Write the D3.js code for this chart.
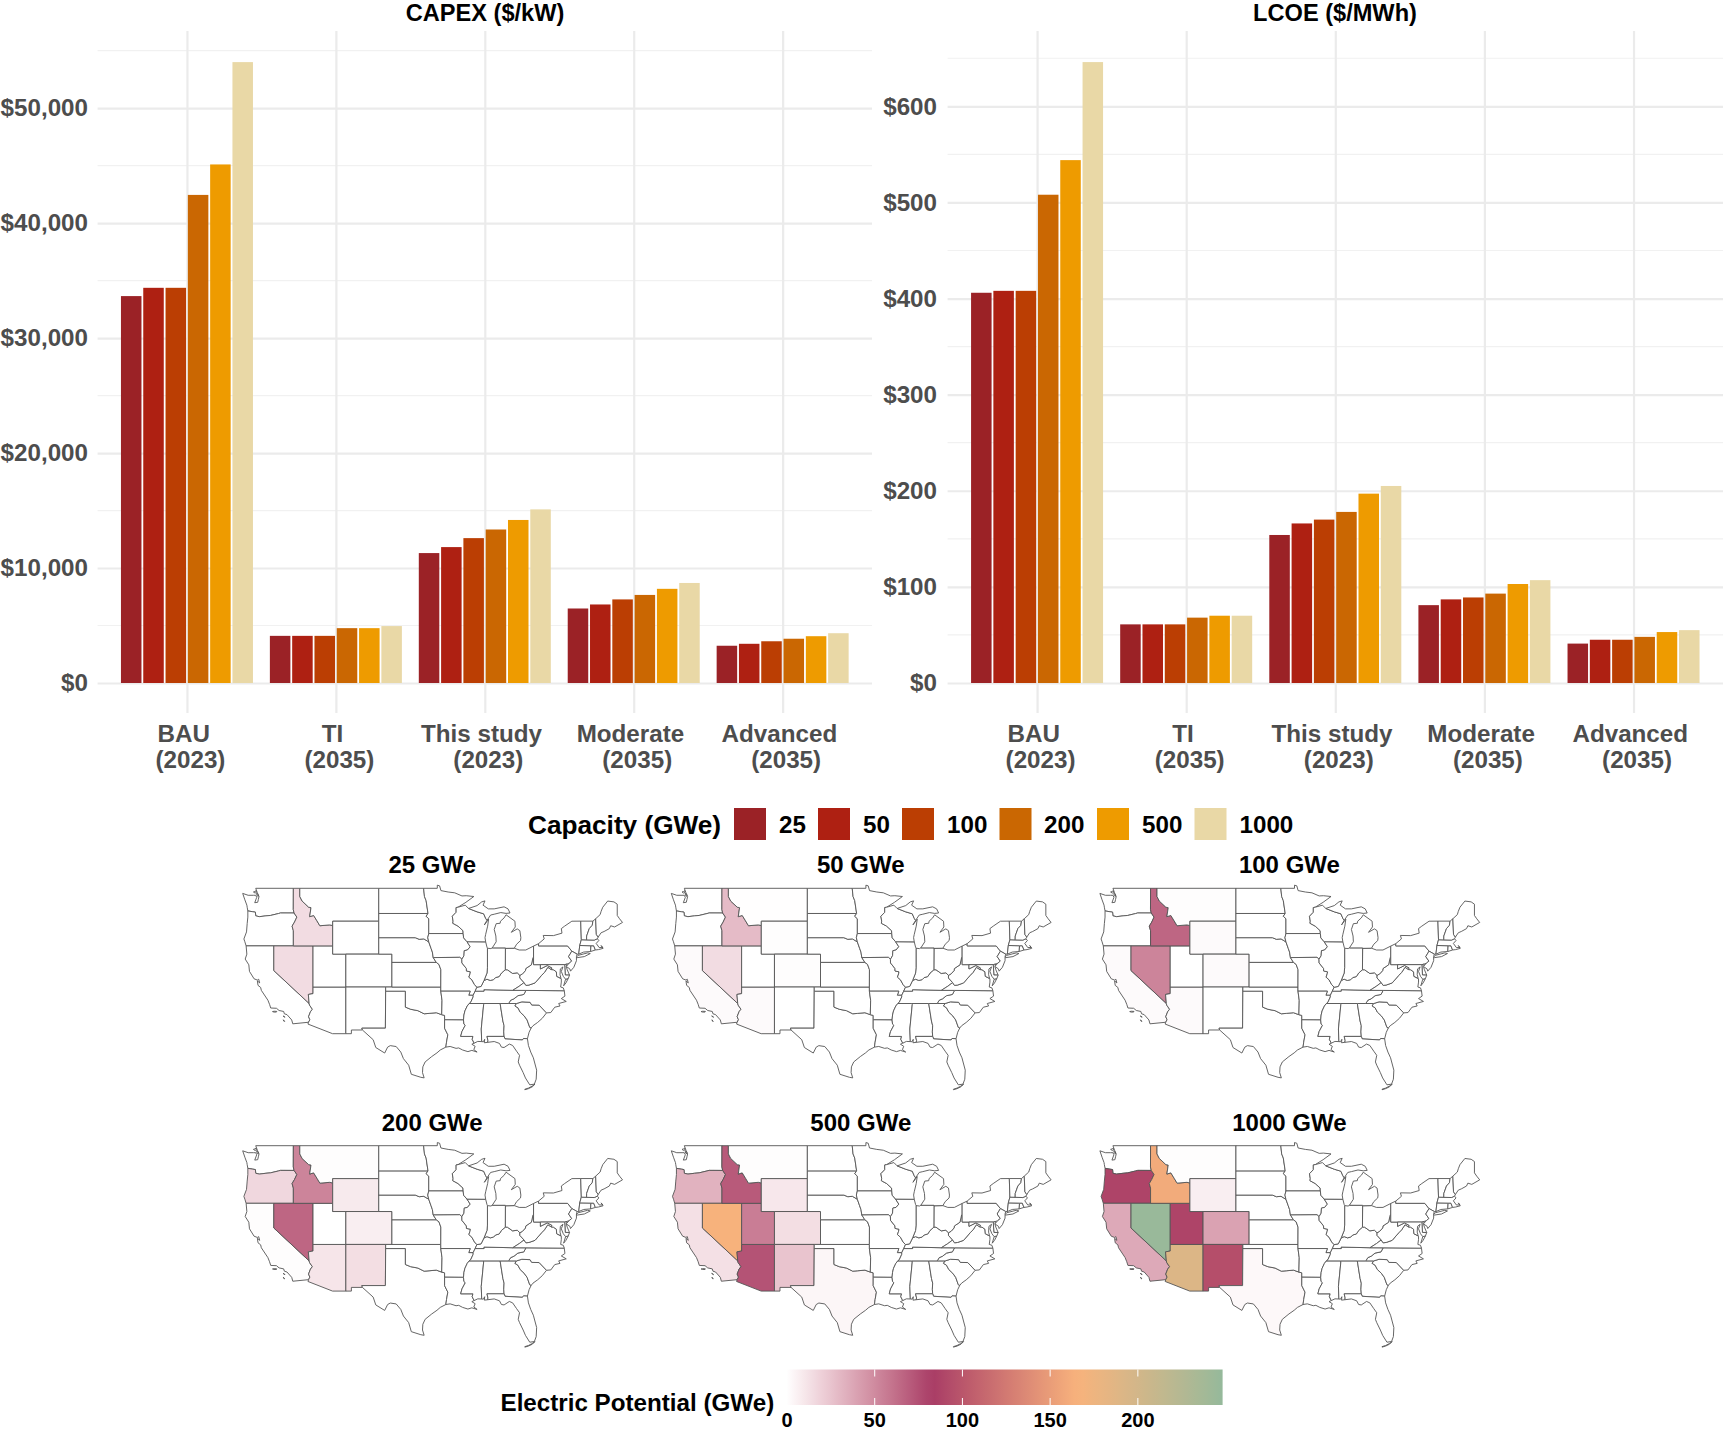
<!DOCTYPE html>
<html>
<head>
<meta charset="utf-8">
<title>Enhanced geothermal cost and potential</title>
<script src="https://cdn.jsdelivr.net/npm/d3@7"></script>
<style>
  html, body { margin: 0; padding: 0; background: #fff; }
  svg { display: block; font-family: "Liberation Sans", Arial, sans-serif; font-weight: 700; }
</style>
</head>
<body>
<svg id="chart" width="1725" height="1432"></svg>
<script>
// Cost scenarios and build-out sizes
const scenarios = ["BAU (2023)", "TI (2035)", "This study (2023)", "Moderate (2035)", "Advanced (2035)"];
const capacities = [25, 50, 100, 200, 500, 1000];
const capacityColors = ["#9b2226", "#ae2012", "#bb3e03", "#ca6702", "#ee9b00", "#e9d8a6"];

// CAPEX in $/kW, one row per scenario, one value per capacity
const capexBAU = [33650, 34370, 34370, 42450, 45100, 54000];
const capexTI = [4100, 4100, 4100, 4770, 4770, 4950];
const capexThisStudy = [11300, 11820, 12600, 13350, 14180, 15100];
const capexModerate = [6480, 6830, 7270, 7660, 8190, 8700];
const capexAdvanced = [3240, 3410, 3630, 3850, 4070, 4330];

// LCOE in $/MWh
const lcoeBAU = [406, 408, 408, 508, 544, 646];
const lcoeTI = [61, 61, 61, 68, 70, 70];
const lcoeThisStudy = [154, 166, 170, 178, 197, 205];
const lcoeModerate = [81, 87, 89, 93, 103, 107];
const lcoeAdvanced = [41, 45, 45, 48, 53, 55];

// Electric potential in GWe by state for each build-out size
const potential25 = { ID: 15, NV: 15 };
const potential50 = { ID: 29, NV: 15, CA: 2, WY: 1, CO: 1, AZ: 2, MT: 0.5 };
const potential100 = { ID: 66, NV: 53, CA: 2, MT: 1, WY: 2, CO: 2, AZ: 2 };
const potential200 = { ID: 53, NV: 66, OR: 17, WY: 9, MT: 1, CO: 7, NM: 14, AZ: 11, CA: 1 };
const potential500 = { OR: 33, ID: 71, NV: 165, UT: 56, WY: 10, CO: 14, NM: 25, AZ: 74, CA: 13, MT: 1, TX: 4 };
const potential1000 = { OR: 88, ID: 160, NV: 246, UT: 88, WY: 7, CO: 40, NM: 95, AZ: 192, CA: 37, MT: 1, TX: 3 };

const potentialTicks = [0, 50, 100, 150, 200];
const potentialMax = 248.6;
const potentialStops = [0, 83, 166, 248.6];
const potentialColors = ["#ffffff", "#a93c66", "#f8b37c", "#95b99b"];

// Simplified state outlines, longitude then latitude, one list of rings per state
const stateShapes = {
  WA: [
    [[-124.73,48.38],[-123.9,48.15],[-123.1,48.15],[-122.75,48.15],[-122.6,47.9],[-122.9,47.25],[-122.45,47.3],[-122.35,47.65],[-122.25,48.0],[-122.5,48.45],[-122.75,49],[-117.03,49],[-117.04,46.42],[-116.92,45.995],[-118.98,46],[-119.3,45.93],[-120.5,45.7],[-121.2,45.65],[-122.2,45.55],[-122.75,45.65],[-122.8,46.1],[-123.2,46.15],[-123.95,46.25],[-124.05,46.7],[-124.1,46.95],[-124.4,47.6]],
    [[-122.7,48.72],[-122.85,48.62],[-123.1,48.55],[-122.85,48.42],[-122.65,48.5]],
    [[-122.62,48.4],[-122.38,48.25],[-122.35,48.02],[-122.55,48.1]]
  ],
  OR: [[[-123.95,46.25],[-123.2,46.15],[-122.8,46.1],[-122.75,45.65],[-122.2,45.55],[-121.2,45.65],[-120.5,45.7],[-119.3,45.93],[-118.98,46],[-116.92,45.995],[-116.5,45.5],[-116.85,44.9],[-117.22,44.4],[-117.03,43.85],[-117.03,42],[-124.21,42],[-124.4,42.5],[-124.55,42.84],[-124.15,43.7],[-124.05,44.7],[-123.95,45.5]]],
  CA: [
    [[-124.21,42],[-120,42],[-120,39],[-114.63,35],[-114.57,34.8],[-114.14,34.3],[-114.43,34],[-114.72,33.4],[-114.52,33.03],[-114.72,32.72],[-117.12,32.53],[-117.28,33],[-118,33.65],[-118.4,33.75],[-118.5,34.03],[-119.2,34.15],[-119.6,34.42],[-120.47,34.45],[-120.65,34.9],[-120.9,35.4],[-121.9,36.6],[-122,36.95],[-122.4,37.2],[-122.5,37.75],[-122.15,37.5],[-122.3,37.95],[-122.5,37.85],[-123,38],[-123.7,38.9],[-123.8,39.7],[-124.35,40.4],[-124.1,41]],
    [[-120.2,34.02],[-119.95,34.06],[-119.55,34.04],[-119.6,33.96],[-120,33.96]],
    [[-118.6,33.48],[-118.35,33.4],[-118.32,33.32],[-118.5,33.42]],
    [[-118.55,33.02],[-118.35,32.82],[-118.48,32.85]]
  ],
  NV: [[[-120,42],[-114.04,42],[-114.04,36.2],[-114.75,36.1],[-114.63,35],[-120,39]]],
  AZ: [[[-114.04,37],[-109.05,37],[-109.05,31.33],[-111.07,31.33],[-114.81,32.5],[-114.72,32.72],[-114.52,33.03],[-114.72,33.4],[-114.43,34],[-114.14,34.3],[-114.57,34.8],[-114.63,35],[-114.75,36.1],[-114.04,36.2]]],
  UT: [[[-114.04,42],[-111.05,42],[-111.05,41],[-109.05,41],[-109.05,37],[-114.04,37]]],
  ID: [[[-117.03,49],[-116.05,49],[-116.05,48],[-115.7,47.45],[-114.7,46.7],[-114.35,46.65],[-114.55,45.55],[-113.95,45.7],[-113.45,45.05],[-113,44.45],[-111.5,44.55],[-111.05,44.47],[-111.05,42],[-117.03,42],[-117.03,43.85],[-117.22,44.4],[-116.85,44.9],[-116.5,45.5],[-116.92,45.995],[-117.04,46.42]]],
  MT: [[[-116.05,49],[-104.05,49],[-104.05,45],[-111.05,45],[-111.05,44.47],[-111.5,44.55],[-113,44.45],[-113.45,45.05],[-113.95,45.7],[-114.55,45.55],[-114.35,46.65],[-114.7,46.7],[-115.7,47.45],[-116.05,48]]],
  WY: [[[-111.05,45],[-104.05,45],[-104.05,41],[-111.05,41]]],
  CO: [[[-109.05,41],[-102.05,41],[-102.05,37],[-109.05,37]]],
  NM: [[[-109.05,37],[-103,37],[-103.04,32],[-106.62,32],[-106.53,31.78],[-108.21,31.78],[-108.21,31.33],[-109.05,31.33]]],
  TX: [[[-103,36.5],[-100,36.5],[-100,34.56],[-99.2,34.3],[-98.1,34.13],[-97.15,33.75],[-96.4,33.8],[-95.3,33.88],[-94.48,33.64],[-94.04,33.55],[-94.04,33.02],[-94.04,31.99],[-93.55,31.2],[-93.75,30.3],[-93.85,29.7],[-94.7,29.35],[-95.2,29],[-96,28.55],[-97,27.9],[-97.35,27.3],[-97.4,26.6],[-97.15,25.96],[-97.65,26.03],[-99.1,26.4],[-99.5,27.5],[-100.3,28.3],[-100.7,29.1],[-101.4,29.77],[-102.3,29.88],[-102.7,29.7],[-103.15,28.98],[-104.5,29.65],[-104.9,30.6],[-106.53,31.78],[-106.62,32],[-103.04,32]]],
  OK: [[[-103,37],[-94.62,37],[-94.62,36.5],[-94.43,35.39],[-94.48,33.64],[-95.3,33.88],[-96.4,33.8],[-97.15,33.75],[-98.1,34.13],[-99.2,34.3],[-100,34.56],[-100,36.5],[-103,36.5]]],
  KS: [[[-102.05,40],[-95.31,40],[-94.9,39.75],[-94.61,39.11],[-94.62,37],[-102.05,37]]],
  NE: [[[-104.05,43],[-98.5,43],[-97.9,42.8],[-97.2,42.85],[-96.45,42.49],[-96.1,41.7],[-95.9,41.25],[-95.77,40.58],[-95.31,40],[-102.05,40],[-102.05,41],[-104.05,41]]],
  SD: [[[-104.05,45.94],[-96.56,45.94],[-96.85,45.6],[-96.45,45.3],[-96.45,43.5],[-96.6,43],[-96.45,42.49],[-97.2,42.85],[-97.9,42.8],[-98.5,43],[-104.05,43]]],
  ND: [[[-104.05,49],[-97.23,49],[-97.1,48],[-96.85,47.5],[-96.56,45.94],[-104.05,45.94]]],
  MN: [[[-97.23,49],[-95.15,49],[-95.15,49.38],[-94.8,49.3],[-94.6,48.72],[-93.5,48.55],[-92.5,48.45],[-91.4,48.07],[-90.75,48.1],[-89.6,48],[-90.8,47.3],[-92,46.7],[-92.29,46.66],[-92.29,46.08],[-92.87,45.6],[-92.75,45],[-92.8,44.75],[-92,44.4],[-91.25,43.85],[-91.22,43.5],[-96.45,43.5],[-96.45,45.3],[-96.85,45.6],[-96.56,45.94],[-96.85,47.5],[-97.1,48]]],
  IA: [[[-96.45,43.5],[-91.22,43.5],[-91.15,42.98],[-90.64,42.51],[-90.15,41.9],[-90.57,41.5],[-91.05,41.42],[-91.1,40.8],[-91.42,40.38],[-91.73,40.61],[-95.77,40.58],[-95.9,41.25],[-96.1,41.7],[-96.45,42.49],[-96.6,43]]],
  MO: [[[-95.77,40.58],[-91.73,40.61],[-91.42,40.38],[-91.41,39.93],[-90.73,39.25],[-90.72,38.95],[-90.12,38.85],[-90.18,38.6],[-90.35,38.2],[-89.9,37.88],[-89.5,37.3],[-89.13,36.98],[-89.4,36.5],[-89.7,36],[-90.37,36],[-90.15,36.5],[-94.62,36.5],[-94.62,37],[-94.61,39.11],[-94.9,39.75],[-95.31,40]]],
  AR: [[[-94.62,36.5],[-90.15,36.5],[-90.37,36],[-89.7,36],[-89.7,35.8],[-90.07,35.15],[-90.3,35],[-90.6,34.7],[-90.95,34.1],[-91.1,33.6],[-91.17,33],[-94.04,33.02],[-94.04,33.55],[-94.48,33.64],[-94.43,35.39]]],
  LA: [[[-94.04,33.02],[-91.17,33],[-91.1,32.5],[-90.9,32.35],[-91.4,31.6],[-91.6,31],[-89.73,31],[-89.85,30.65],[-89.55,30.18],[-89.9,30.05],[-89.4,29.8],[-89.6,29.4],[-89.1,29.1],[-89.9,29.3],[-90.5,29.15],[-91.3,29.35],[-91.9,29.6],[-92.3,29.55],[-93.2,29.78],[-93.85,29.7],[-93.75,30.3],[-93.55,31.2],[-94.04,31.99]]],
  MS: [[[-90.3,35],[-88.2,35],[-88.1,34.9],[-88.47,31.9],[-88.4,30.37],[-89,30.39],[-89.55,30.18],[-89.85,30.65],[-89.73,31],[-91.6,31],[-91.4,31.6],[-90.9,32.35],[-91.1,32.5],[-91.17,33],[-91.1,33.6],[-90.95,34.1],[-90.6,34.7]]],
  AL: [[[-88.2,35],[-85.6,35],[-85.18,32.87],[-85,32.3],[-85.05,31.55],[-85,31],[-87.6,31],[-87.45,30.5],[-87.5,30.28],[-88,30.23],[-87.95,30.65],[-88.15,30.35],[-88.4,30.37],[-88.47,31.9],[-88.1,34.9]]],
  GA: [[[-85.6,35],[-83.11,35],[-83.35,34.7],[-82.9,34.48],[-82.55,33.95],[-81.95,33.5],[-81.5,33],[-81.1,32.1],[-80.88,32.03],[-81.2,31.5],[-81.45,30.72],[-82.05,30.75],[-82.2,30.57],[-84.86,30.7],[-85,31],[-85.05,31.55],[-85,32.3],[-85.18,32.87]]],
  FL: [
    [[-87.6,31],[-85,31],[-84.86,30.7],[-82.2,30.57],[-82.05,30.75],[-81.45,30.72],[-81.3,29.9],[-80.95,29.1],[-80.55,28.4],[-80.05,26.9],[-80.12,25.8],[-80.4,25.2],[-81.1,25.12],[-81.75,25.95],[-82.1,26.6],[-82.65,27.5],[-82.85,27.9],[-82.65,28.7],[-83.1,29.2],[-83.7,29.9],[-84.2,30.07],[-85,29.65],[-85.4,29.7],[-85.7,30.15],[-86.5,30.38],[-87.5,30.28],[-87.45,30.5]],
    [[-81.85,24.52],[-81.3,24.65],[-80.7,24.88],[-80.3,25.2],[-80.75,24.95],[-81.3,24.72],[-81.85,24.58]]
  ],
  SC: [[[-83.35,34.7],[-83.11,35],[-82.3,35.2],[-81.05,35.15],[-80.8,34.82],[-79.67,34.8],[-78.55,33.86],[-79.2,33.2],[-79.9,32.7],[-80.6,32.3],[-80.88,32.03],[-81.1,32.1],[-81.5,33],[-81.95,33.5],[-82.55,33.95],[-82.9,34.48]]],
  NC: [[[-84.32,35],[-83.11,35],[-82.3,35.2],[-81.05,35.15],[-80.8,34.82],[-79.67,34.8],[-78.55,33.86],[-77.9,33.9],[-77.3,34.55],[-76.5,34.7],[-76.7,35],[-75.55,35.25],[-76.3,35.6],[-75.75,35.9],[-75.85,36.55],[-81.68,36.59],[-82,36.1],[-82.9,35.95],[-83.5,35.57],[-84,35.4]]],
  TN: [[[-89.7,36],[-89.4,36.5],[-88.05,36.5],[-88.07,36.68],[-83.68,36.6],[-81.68,36.59],[-82,36.1],[-82.9,35.95],[-83.5,35.57],[-84,35.4],[-84.32,35],[-85.6,35],[-88.2,35],[-90.3,35],[-90.07,35.15],[-89.7,35.8]]],
  KY: [[[-89.13,36.98],[-88.5,37.07],[-88.05,37.8],[-87.6,37.95],[-87.1,37.8],[-86.6,37.9],[-86.3,38.15],[-85.75,38.27],[-85.4,38.7],[-84.82,39.1],[-84.5,39.1],[-83.7,38.65],[-83,38.73],[-82.6,38.42],[-82.6,38.1],[-81.97,37.54],[-82.7,37.1],[-83.68,36.6],[-88.07,36.68],[-88.05,36.5],[-89.4,36.5]]],
  VA: [
    [[-83.68,36.6],[-81.68,36.59],[-75.85,36.55],[-76,36.9],[-76.4,37],[-76.3,37.6],[-76.3,38],[-77,38.3],[-77.05,38.85],[-77.5,39.1],[-77.83,39.13],[-78.35,39.4],[-78.87,38.77],[-79.3,38.42],[-80.3,37.5],[-81.22,37.24],[-81.68,37.2],[-81.97,37.54],[-82.7,37.1]],
    [[-75.95,37.15],[-75.65,37.95],[-75.25,38.03],[-75.6,37.5]]
  ],
  WV: [[[-82.6,38.42],[-82.2,38.6],[-81.75,39],[-81.7,39.25],[-80.85,39.7],[-80.6,40.6],[-80.52,40.64],[-80.52,39.72],[-79.48,39.72],[-79.48,39.2],[-78.43,39.62],[-77.72,39.32],[-77.83,39.13],[-78.35,39.4],[-78.87,38.77],[-79.3,38.42],[-80.3,37.5],[-81.22,37.24],[-81.68,37.2],[-81.97,37.54],[-82.6,38.1]]],
  OH: [[[-84.82,39.1],[-84.5,39.1],[-83.7,38.65],[-83,38.73],[-82.6,38.42],[-82.2,38.6],[-81.75,39],[-81.7,39.25],[-80.85,39.7],[-80.6,40.6],[-80.52,40.64],[-80.52,41.98],[-81.7,41.5],[-82.7,41.5],[-83.45,41.72],[-84.8,41.7]]],
  IN: [[[-87.53,41.72],[-87,41.67],[-86.8,41.76],[-84.8,41.76],[-84.82,39.1],[-85.4,38.7],[-85.75,38.27],[-86.3,38.15],[-86.6,37.9],[-87.1,37.8],[-87.6,37.95],[-88.05,37.8],[-87.6,38.7],[-87.53,39.35]]],
  IL: [[[-90.64,42.51],[-87.8,42.49],[-87.6,41.85],[-87.53,41.72],[-87.53,39.35],[-87.6,38.7],[-88.05,37.8],[-88.5,37.07],[-89.13,36.98],[-89.5,37.3],[-89.9,37.88],[-90.35,38.2],[-90.18,38.6],[-90.12,38.85],[-90.72,38.95],[-90.73,39.25],[-91.41,39.93],[-91.42,40.38],[-91.1,40.8],[-91.05,41.42],[-90.57,41.5],[-90.15,41.9]]],
  WI: [[[-92.29,46.66],[-92,46.7],[-90.9,46.95],[-90.4,46.55],[-89.1,46.14],[-88.1,45.9],[-87.8,45.35],[-87.6,45.1],[-88,44.55],[-87.35,45.25],[-87.5,44.4],[-87.8,43.4],[-87.9,43],[-87.8,42.49],[-90.64,42.51],[-91.15,42.98],[-91.22,43.5],[-91.25,43.85],[-92,44.4],[-92.8,44.75],[-92.75,45],[-92.87,45.6],[-92.29,46.08]]],
  MI: [
    [[-90.4,46.55],[-89.1,46.9],[-88.4,47.35],[-87.9,47.47],[-88.2,46.95],[-87.4,46.5],[-86.5,46.5],[-85,46.75],[-84.4,46.5],[-84.1,46],[-84.7,45.95],[-85.5,46.05],[-86.5,45.85],[-87.05,45.75],[-87.6,45.1],[-87.8,45.35],[-88.1,45.9],[-89.1,46.14]],
    [[-86.8,41.76],[-84.8,41.76],[-84.8,41.7],[-83.45,41.72],[-83.1,42.2],[-82.5,42.65],[-82.45,43],[-82.6,43.85],[-83,44.07],[-83.9,43.65],[-83.3,44.3],[-83.35,45],[-84.7,45.78],[-85,45.4],[-85.55,45],[-85.6,44.75],[-86.2,44.7],[-86.5,44],[-86.25,43.2],[-86.2,42.5]]
  ],
  PA: [[[-80.52,41.98],[-80.52,39.72],[-75.79,39.72],[-75.42,39.8],[-75.1,39.9],[-74.72,40.15],[-75.2,40.7],[-74.7,41.36],[-75.35,42],[-79.76,42],[-79.76,42.27]]],
  NY: [
    [[-79.76,42.27],[-79.76,42],[-75.35,42],[-74.7,41.36],[-73.9,41],[-73.65,41],[-73.5,42.05],[-73.26,42.75],[-73.35,45.01],[-74.7,45],[-75.8,44.4],[-76.3,44.1],[-76.2,43.55],[-77.5,43.25],[-79.05,43.27],[-78.9,42.85]],
    [[-74.05,40.6],[-73.75,40.85],[-72.3,41.15],[-71.9,41.07],[-72.8,40.7],[-73.9,40.57]]
  ],
  NJ: [[[-74.7,41.36],[-75.2,40.7],[-74.72,40.15],[-75.1,39.9],[-75.55,39.5],[-75,39.2],[-74.9,38.93],[-74.4,39.4],[-74,40.2],[-74,40.7],[-73.9,41]]],
  DE: [[[-75.79,39.72],[-75.42,39.8],[-75.55,39.5],[-75.4,39.1],[-75.05,38.45],[-75.7,38.46]]],
  MD: [[[-79.48,39.72],[-75.79,39.72],[-75.7,38.46],[-75.05,38.45],[-75.25,38.03],[-75.65,37.95],[-76,38.3],[-76.3,38.9],[-76.05,39.45],[-76.45,39.2],[-76.5,38.5],[-76.35,38.05],[-77,38.3],[-77.05,38.85],[-77.5,39.1],[-77.83,39.13],[-77.72,39.32],[-78.43,39.62],[-79.48,39.2]]],
  CT: [[[-73.65,41],[-73.5,42.05],[-71.8,42.02],[-71.85,41.32],[-72.9,41.25]]],
  RI: [[[-71.8,42.02],[-71.38,42.02],[-71.12,41.5],[-71.85,41.32]]],
  MA: [[[-73.5,42.05],[-73.26,42.75],[-71.3,42.7],[-70.82,42.87],[-70.6,42.65],[-71,42.3],[-70.55,41.8],[-70,41.8],[-70.25,42.05],[-69.95,41.7],[-70.65,41.55],[-71.12,41.5],[-71.38,42.02],[-71.8,42.02]]],
  VT: [[[-73.35,45.01],[-71.5,45.01],[-71.6,44.5],[-72.05,44.1],[-72.45,43.2],[-72.46,42.73],[-73.26,42.75]]],
  NH: [[[-71.5,45.01],[-71.08,45.3],[-70.98,43.4],[-70.7,43.07],[-70.82,42.87],[-71.3,42.7],[-72.46,42.73],[-72.45,43.2],[-72.05,44.1],[-71.6,44.5]]],
  ME: [[[-71.08,45.3],[-70.4,45.8],[-70.25,46.2],[-70,46.7],[-69.25,47.45],[-68.3,47.35],[-67.8,47.07],[-67.8,45.7],[-67.45,45.3],[-67,44.85],[-68.2,44.3],[-68.8,44.45],[-69,44.1],[-69.8,43.75],[-70.25,43.6],[-70.7,43.07],[-70.98,43.4]]]
};

const svg = d3.select("#chart");
const GRID_MAJOR = "#ebebeb";
const GRID_MINOR = "#f1f1f1";
const AXIS_TEXT = "#4d4d4d";

// ---- Bar panels ----
const barPanels = [
  {
    title: "CAPEX ($/kW)",
    rows: [capexBAU, capexTI, capexThisStudy, capexModerate, capexAdvanced],
    xRange: [97.6, 872],
    yDomain: [0, 50000],
    yRange: [683, 108.1],
    yTicks: [0, 10000, 20000, 30000, 40000, 50000],
    yMinor: [5000, 15000, 25000, 35000, 45000, 55000],
    labelX: 88,
    titleX: 485
  },
  {
    title: "LCOE ($/MWh)",
    rows: [lcoeBAU, lcoeTI, lcoeThisStudy, lcoeModerate, lcoeAdvanced],
    xRange: [947.6, 1723],
    yDomain: [0, 600],
    yRange: [683, 106.3],
    yTicks: [0, 100, 200, 300, 400, 500, 600],
    yMinor: [50, 150, 250, 350, 450, 550, 650],
    labelX: 937,
    titleX: 1335
  }
];

barPanels.forEach(panel => {
  const g = svg.append("g");
  const x = d3.scalePoint().domain(scenarios).range(panel.xRange).padding(0.6);
  const y = d3.scaleLinear().domain(panel.yDomain).range(panel.yRange);
  const inner = d3.scaleBand().domain(capacities).range([-66, 66]).paddingInner(0.08);
  const color = d3.scaleOrdinal().domain(capacities).range(capacityColors);

  // minor horizontal grid
  g.append("g").selectAll("line").data(panel.yMinor).join("line")
    .attr("x1", panel.xRange[0]).attr("x2", panel.xRange[1])
    .attr("y1", d => y(d)).attr("y2", d => y(d))
    .attr("stroke", GRID_MINOR).attr("stroke-width", 1.2);

  // left axis: tick lines extend across the panel as the major grid
  const yAxis = g.append("g")
    .attr("transform", `translate(${panel.xRange[0]},0)`)
    .call(d3.axisLeft(y).tickValues(panel.yTicks)
      .tickSize(-(panel.xRange[1] - panel.xRange[0]))
      .tickPadding(panel.xRange[0] - panel.labelX)
      .tickFormat(d => "$" + d3.format(",")(d)));
  yAxis.select(".domain").remove();
  yAxis.selectAll("line").attr("stroke", GRID_MAJOR).attr("stroke-width", 2.2);
  yAxis.selectAll("text").attr("fill", AXIS_TEXT).attr("font-size", 24.2).attr("font-family", "Liberation Sans").attr("font-weight", 700);

  // bottom axis: two-line labels with the year nudged to the right
  const xAxis = g.append("g")
    .attr("transform", "translate(0,713)")
    .call(d3.axisBottom(x).tickSize(682).tickPadding(0));
  xAxis.select(".domain").remove();
  xAxis.selectAll("line")
    .attr("stroke", GRID_MAJOR).attr("stroke-width", 2.2)
    .attr("y1", 0).attr("y2", -682);
  xAxis.selectAll("text").each(function (d) {
    const parts = d.split(" (");
    const t = d3.select(this).text(null)
      .attr("y", 0).attr("dy", 0)
      .attr("fill", AXIS_TEXT).attr("font-size", 24.2)
      .attr("font-family", "Liberation Sans").attr("font-weight", 700);
    t.append("tspan").attr("x", -3.8).attr("y", 29).text(parts[0]);
    t.append("tspan").attr("x", 3).attr("y", 55).text("(" + parts[1]);
  });

  // bars
  const groups = g.append("g").selectAll("g").data(panel.rows).join("g")
    .attr("transform", (d, i) => `translate(${x(scenarios[i])},0)`);
  groups.selectAll("rect").data(row => row.map((v, j) => ({ v, cap: capacities[j] }))).join("rect")
    .attr("x", d => inner(d.cap))
    .attr("width", inner.bandwidth())
    .attr("y", d => y(d.v))
    .attr("height", d => y(0) - y(d.v))
    .attr("fill", d => color(d.cap));

  g.append("text")
    .attr("x", panel.titleX).attr("y", 21.4)
    .attr("text-anchor", "middle").attr("font-size", 23.6).attr("fill", "#000")
    .text(panel.title);
});

// ---- Capacity legend ----
const legendItems = capacities.map((c, i) => ({
  c,
  color: capacityColors[i],
  keyX: [734, 818, 902, 999.5, 1097, 1194.5][i],
  textX: [779, 863, 947, 1044, 1142, 1239.5][i]
}));
const legend = svg.append("g");
legend.append("text").attr("x", 528).attr("y", 834).attr("font-size", 26.2).attr("fill", "#000").text("Capacity (GWe)");
legend.selectAll("rect").data(legendItems).join("rect")
  .attr("x", d => d.keyX).attr("y", 808).attr("width", 32).attr("height", 32)
  .attr("fill", d => d.color);
legend.selectAll("text.lab").data(legendItems).join("text").attr("class", "lab")
  .attr("x", d => d.textX).attr("y", 833).attr("font-size", 24.2).attr("fill", "#000")
  .text(d => d.c);

// ---- State maps ----
const potentialColor = d3.scaleLinear().domain(potentialStops).range(potentialColors)
  .interpolate(d3.interpolateLab).clamp(true);

const stateFeatures = Object.entries(stateShapes).map(([id, rings]) => ({
  type: "Feature",
  id,
  geometry: {
    type: "MultiPolygon",
    coordinates: rings.map(r => [[...r, r[0]]])
  }
}));

const mapPanels = [
  { label: "25 GWe", values: potential25, col: 0, row: 0 },
  { label: "50 GWe", values: potential50, col: 1, row: 0 },
  { label: "100 GWe", values: potential100, col: 2, row: 0 },
  { label: "200 GWe", values: potential200, col: 0, row: 1 },
  { label: "500 GWe", values: potential500, col: 1, row: 1 },
  { label: "1000 GWe", values: potential1000, col: 2, row: 1 }
];

mapPanels.forEach(p => {
  const left = 242.7 + p.col * 428.6;
  const top = 888.3 + p.row * 257.4;
  // plain longitude/latitude axes, stretched so parallels stay straight
  const lonScale = d3.scaleLinear().domain([-124.73, -66.97]).range([left, left + 380]);
  const latScale = d3.scaleLinear().domain([49, 25.12]).range([top, top + 196.5]);
  const path = d3.geoPath(d3.geoTransform({
    point(lon, lat) {
      this.stream.point(lonScale(lon), latScale(lat));
    }
  }));
  const g = svg.append("g");
  g.selectAll("path").data(stateFeatures).join("path")
    .attr("d", path)
    .attr("fill", d => potentialColor(p.values[d.id] || 0))
    .attr("stroke", "#555")
    .attr("stroke-width", 0.9)
    .attr("stroke-linejoin", "round");
  g.append("text")
    .attr("x", left + 189.5).attr("y", p.row ? 1130.5 : 872.5)
    .attr("text-anchor", "middle").attr("font-size", 24).attr("fill", "#000")
    .text(p.label);
});

// ---- Potential colour bar ----
const barX = d3.scaleLinear().domain([0, potentialMax]).range([786.5, 1222.6]);
const barTop = 1369.5, barHeight = 35.5;
const defs = svg.append("defs");
const grad = defs.append("linearGradient").attr("id", "potentialRamp");
d3.range(0, 1.0001, 0.02).forEach(t => {
  grad.append("stop").attr("offset", t).attr("stop-color", potentialColor(t * potentialMax));
});
svg.append("rect")
  .attr("x", barX(0)).attr("y", barTop)
  .attr("width", barX(potentialMax) - barX(0)).attr("height", barHeight)
  .attr("fill", "url(#potentialRamp)");

const barAxis = svg.append("g")
  .attr("transform", `translate(0,${barTop + barHeight})`)
  .call(d3.axisBottom(barX).tickValues(potentialTicks).tickSize(0).tickPadding(8.2));
barAxis.select(".domain").remove();
barAxis.selectAll("text").attr("font-size", 20).attr("fill", "#000")
  .attr("font-family", "Liberation Sans").attr("font-weight", 700);
barAxis.selectAll("g.tick").filter(d => d > 0).each(function () {
  const t = d3.select(this);
  t.append("line").attr("y1", -barHeight).attr("y2", -barHeight + 7).attr("stroke", "#fff").attr("stroke-width", 1);
  t.append("line").attr("y1", 0).attr("y2", -7).attr("stroke", "#fff").attr("stroke-width", 1);
});

svg.append("text").attr("x", 500.5).attr("y", 1411).attr("font-size", 24.2).attr("fill", "#000")
  .text("Electric Potential (GWe)");
</script>
</body>
</html>
